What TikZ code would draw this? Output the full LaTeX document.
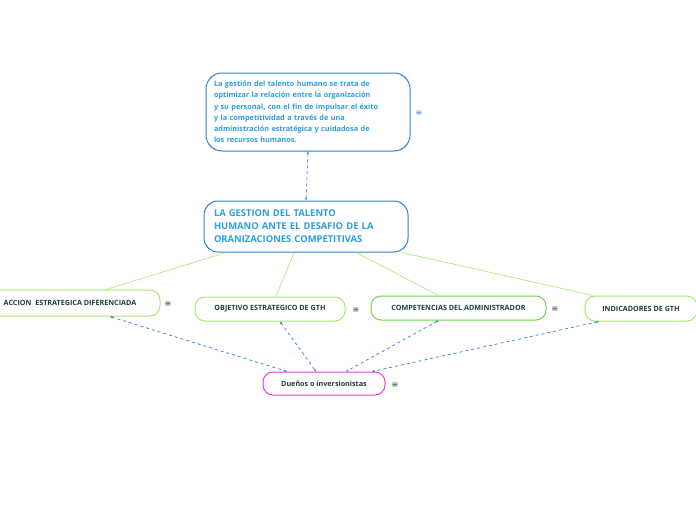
\documentclass[tikz,border=0pt]{standalone}
\usepackage{fontspec}
\setmainfont{Open Sans}
\newfontfamily\djv{DejaVu Sans}
\usetikzlibrary{arrows.meta}
\definecolor{bl}{HTML}{2F7FD8}
\definecolor{tb}{HTML}{2A9FE2}
\definecolor{lg}{HTML}{A8E66E}
\definecolor{dg}{HTML}{6DDB45}
\definecolor{mg}{HTML}{E83AE0}
\definecolor{tx}{HTML}{1E3F3A}
\tikzset{
 box/.style={draw, rounded corners=11pt, line width=1pt, fill=white},
 kid/.style={box, draw=lg, rounded corners=10pt, text=tx, font=\bfseries\fontsize{7.2}{8}\selectfont},
 icon/.style={text=#1, font=\djv\fontsize{8}{8}\selectfont},
 link/.style={draw=lg, line width=0.6pt},
 rel/.style={draw=bl, dashed, line width=0.7pt, {Stealth[length=3pt]}-{Stealth[length=3pt]}}
}
\begin{document}
\begin{tikzpicture}[x=1pt,y=-1pt]
\useasboundingbox (0,0) rectangle (696,520);
\node[box, draw=bl, minimum width=204pt, minimum height=78pt, rounded corners=16pt, text=tb, align=left, font=\bfseries\fontsize{7.3}{11.2}\selectfont, text width=188pt] (top) at (308,112) {La gestión del talento humano se trata de\\optimizar la relación entre la organización\\y su personal, con el fin de impulsar el éxito\\y la competitividad a través de una\\administración estratégica y cuidadosa de\\los recursos humanos.};
\node[icon=bl] (ti) at (419,113) {≡};
\node[box, draw=bl, minimum width=204pt, minimum height=51pt, rounded corners=14pt, text=tb, align=left, font=\bfseries\fontsize{9.4}{13}\selectfont, text width=184pt] (main) at (306,226.5) {LA GESTION DEL TALENTO\\HUMANO ANTE EL DESAFIO DE LA\\ORANIZACIONES COMPETITIVAS};
\node[kid, minimum width=180pt, minimum height=26pt] (a) at (70,303) {ACCION\ \ ESTRATEGICA DIFERENCIADA};
\node[icon=tx] (ai) at (168,304) {≡};
\node[kid, minimum width=150pt, minimum height=24pt] (b) at (270,309) {OBJETIVO ESTRATEGICO DE GTH};
\node[icon=tx] (bi) at (356,310) {≡};
\node[kid, draw=dg, minimum width=175pt, minimum height=24pt] (c) at (458.5,308) {COMPETENCIAS DEL ADMINISTRADOR};
\node[icon=tx] (ci) at (555,309) {≡};
\node[kid, minimum width=112pt, minimum height=25pt] (d) at (641,308.5) {INDICADORES DE GTH};
\node[kid, draw=mg, minimum width=122pt, minimum height=23pt] (e) at (324,383.5) {Dueños o inversionistas};
\node[icon=tx] (ei) at (395,385) {≡};
\draw[link] ([xshift=-80pt]main.south) -- ([xshift=36pt]a.north);
\draw[link] ([xshift=-12pt]main.south) -- ([xshift=6pt]b.north);
\draw[link] ([xshift=50pt]main.south) -- ([xshift=-20pt]c.north);
\draw[link] ([xshift=96pt]main.south) -- ([xshift=-48pt]d.north);
\draw[rel] (top.south) -- (main.north);
\draw[rel] ([xshift=40pt]a.south) -- ([xshift=-37pt]e.north);
\draw[rel] ([xshift=10pt]b.south) -- ([xshift=-8pt]e.north);
\draw[rel] ([xshift=-20pt]c.south) -- ([xshift=22pt]e.north);
\draw[rel] ([xshift=-42pt]d.south) -- ([xshift=48pt]e.north);
\end{tikzpicture}
\end{document}
